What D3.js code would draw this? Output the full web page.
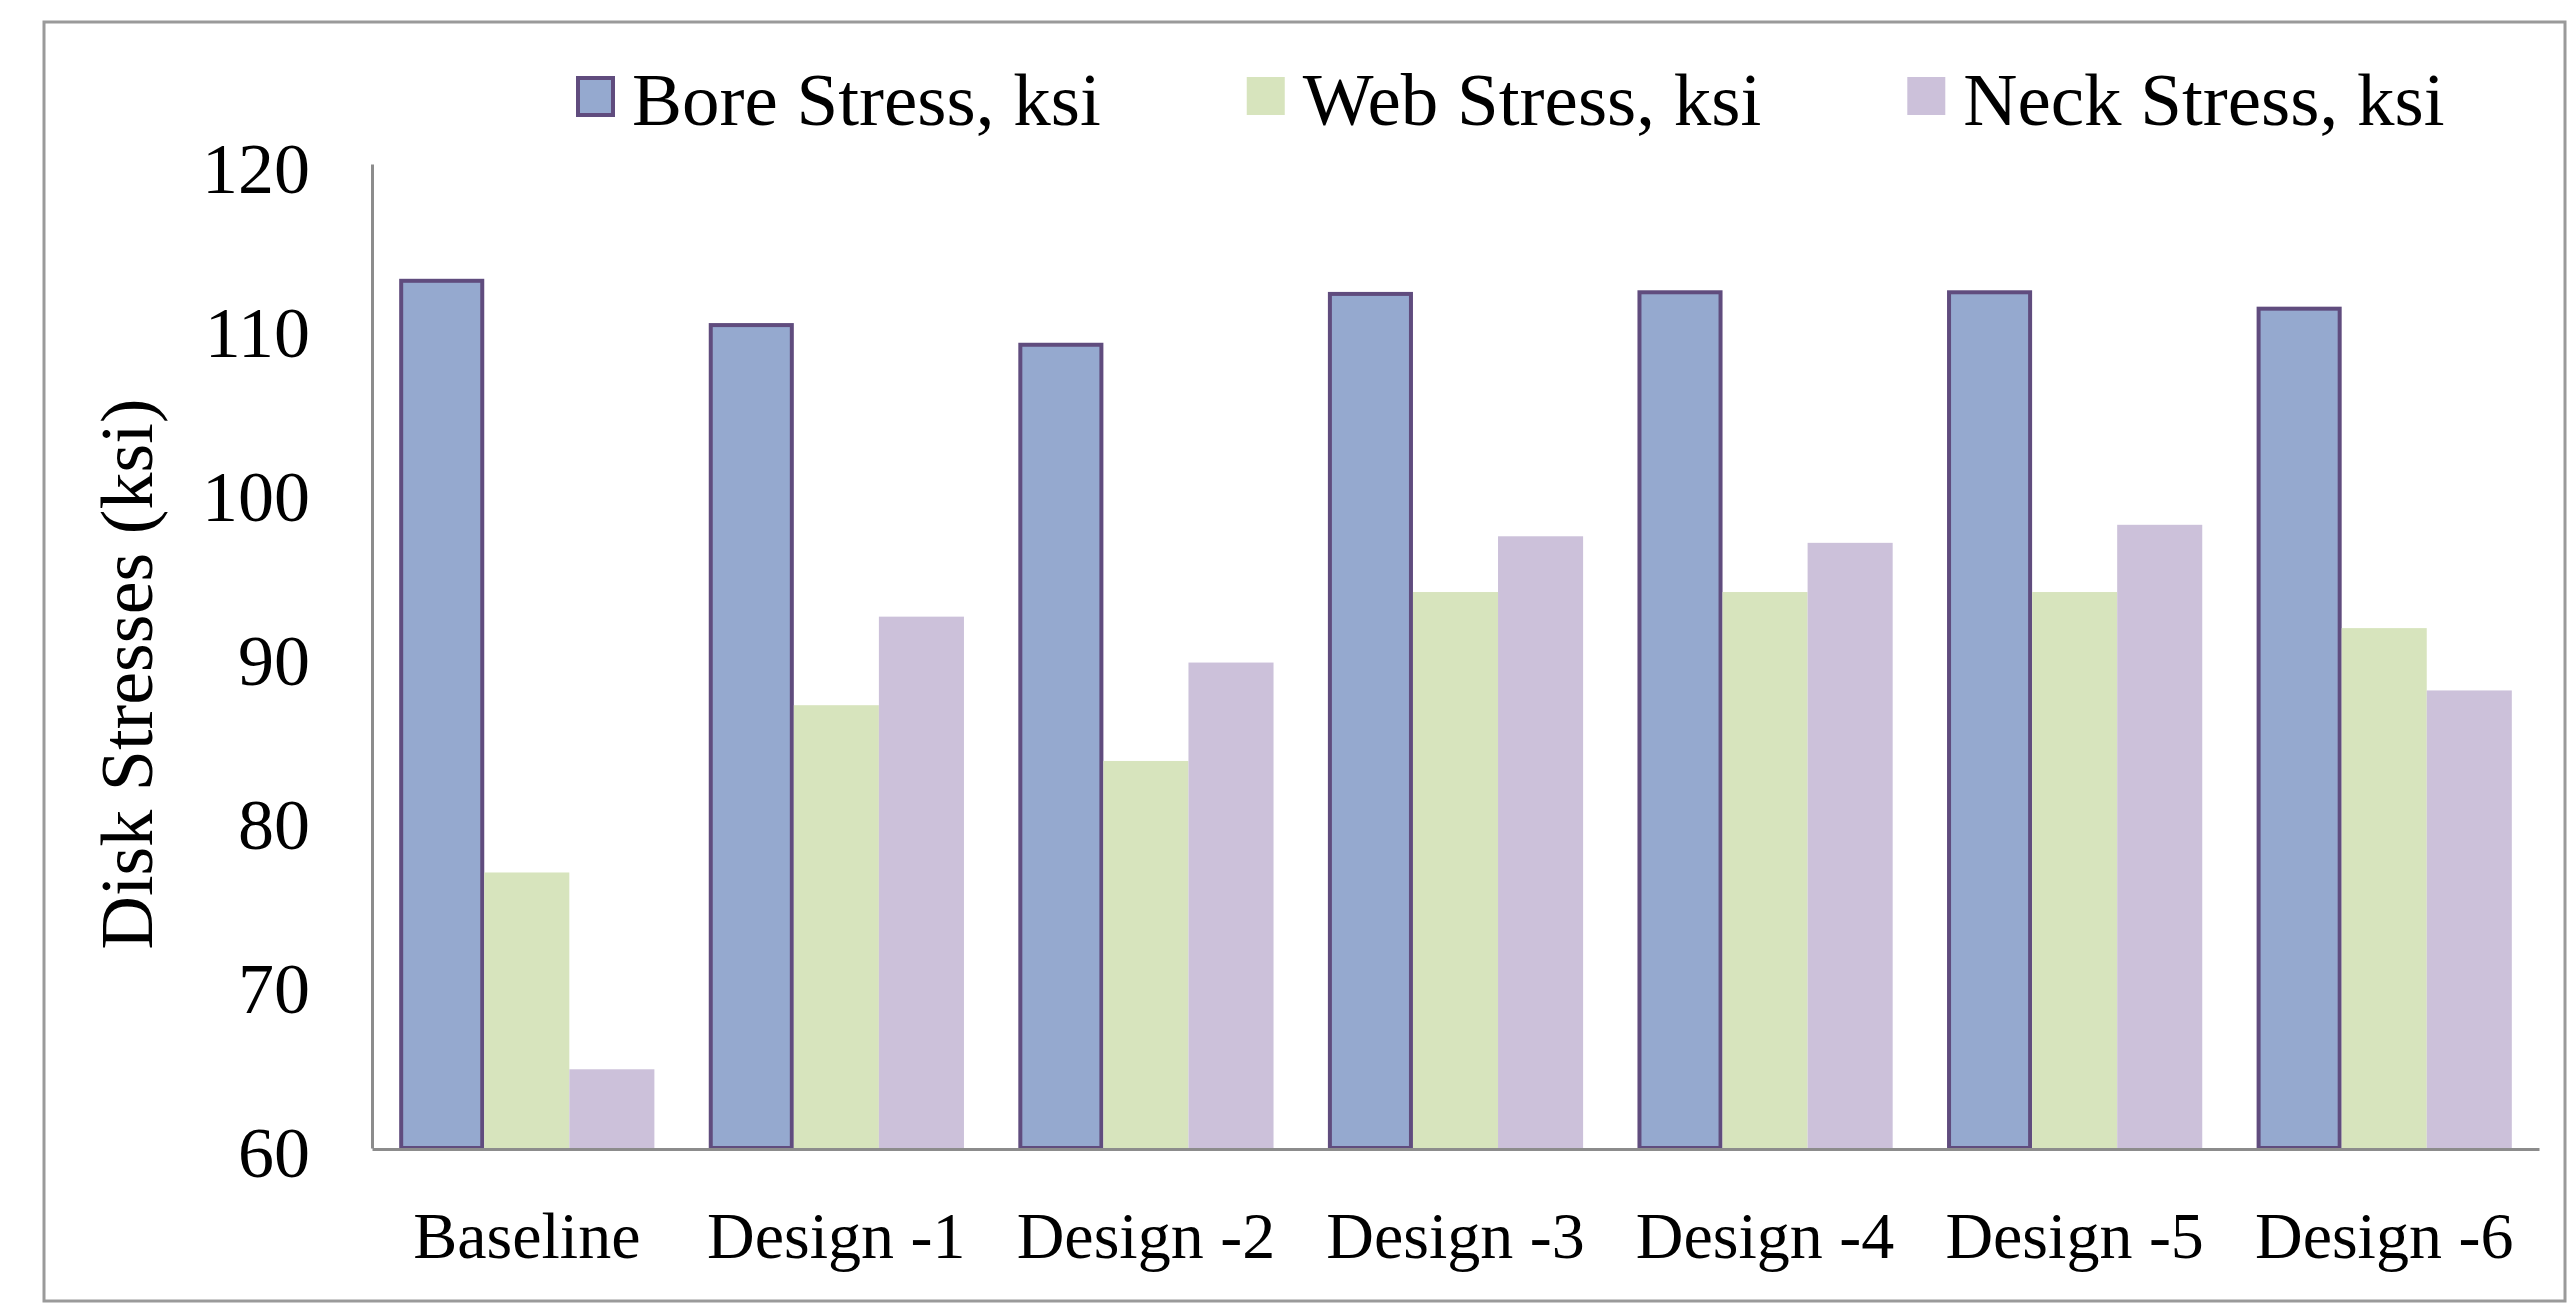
<!DOCTYPE html>
<html>
<head>
<meta charset="utf-8">
<script src="https://cdn.jsdelivr.net/npm/d3@7"></script>
<style>
  html, body { margin: 0; padding: 0; background: #ffffff; }
  svg { display: block; }
  text { font-family: "Liberation Serif", "Times New Roman", serif; fill: #000; }
</style>
</head>
<body>
<svg id="chart" width="2568" height="1315"></svg>
<script>
// ---- data ----
const categories = ["Baseline", "Design -1", "Design -2", "Design -3", "Design -4", "Design -5", "Design -6"];
const seriesNames = ["Bore Stress, ksi", "Web Stress, ksi", "Neck Stress, ksi"];
const boreStress = [113.0, 110.3, 109.1, 112.2, 112.3, 112.3, 111.3];
const webStress  = [76.8, 87.0, 83.6, 93.9, 93.9, 93.9, 91.7];
const neckStress = [64.8, 92.4, 89.6, 97.3, 96.9, 98.0, 87.9];
const yTicks = [60, 70, 80, 90, 100, 110, 120];
const yTitle = "Disk Stresses (ksi)";

// ---- styles ----
const fills = ["#95A9CF", "#D7E4BD", "#CCC1DA"];
const strokes = ["#604C7E", "none", "none"];

const svg = d3.select("#chart");

// outer frame
svg.append("rect")
  .attr("x", 44).attr("y", 22)
  .attr("width", 2565 - 44).attr("height", 1301 - 22)
  .attr("fill", "#fff")
  .attr("stroke", "#9a9a9a").attr("stroke-width", 3);

const plot = { left: 372, right: 2539, top: 164, bottom: 1148 };

const x0 = d3.scaleBand()
  .domain(categories)
  .range([plot.left, plot.right])
  .paddingInner(0.1756)
  .paddingOuter(0.0878);

const x1 = d3.scaleBand()
  .domain(seriesNames)
  .range([0, x0.bandwidth()])
  .padding(0);

const y = d3.scaleLinear()
  .domain([60, 120])
  .range([plot.bottom, plot.top]);

const seriesValues = [boreStress, webStress, neckStress];
const rows = [];
categories.forEach((c, i) => {
  seriesNames.forEach((s, j) => {
    rows.push({ cat: c, series: s, idx: j, value: seriesValues[j][i] });
  });
});

// bars
const bars = svg.append("g").attr("class", "bars");
bars.selectAll("rect")
  .data(rows)
  .join("rect")
  .attr("x", d => x0(d.cat) + x1(d.series) + (d.idx === 0 ? 2 : 0))
  .attr("y", d => y(d.value) + (d.idx === 0 ? 2 : 0))
  .attr("width", d => x1.bandwidth() - (d.idx === 0 ? 4 : 0))
  .attr("height", d => y(60) - y(d.value) - (d.idx === 0 ? 2 : 0))
  .attr("fill", d => fills[d.idx])
  .attr("stroke", d => strokes[d.idx])
  .attr("stroke-width", 4);

// axes
const yAxis = d3.axisLeft(y).tickValues(yTicks).tickSize(0).tickPadding(62).tickFormat(d3.format("d"));
const gy = svg.append("g")
  .attr("transform", `translate(${plot.left},0)`)
  .call(yAxis);
gy.select(".domain").attr("stroke", "#8c8c8c").attr("stroke-width", 3);
gy.selectAll(".tick text")
  .attr("font-size", 72)
  .attr("font-family", "Liberation Serif, Times New Roman, serif")
  .attr("dy", "0.4em");

const xAxis = d3.axisBottom(x0).tickSize(0).tickPadding(62);
const gx = svg.append("g")
  .attr("transform", `translate(0,${plot.bottom + 1})`)
  .call(xAxis);
gx.select(".domain").attr("stroke", "#8c8c8c").attr("stroke-width", 3);
gx.selectAll(".tick text")
  .attr("font-size", 66)
  .attr("font-family", "Liberation Serif, Times New Roman, serif")
  .attr("dy", "0.71em");

// y title
svg.append("text")
  .attr("transform", `translate(152,${(398 + 950) / 2}) rotate(-90)`)
  .attr("text-anchor", "middle")
  .attr("font-size", 74)
  .text(yTitle);

// legend
const legend = svg.append("g").attr("class", "legend");
let lx = 576;
seriesNames.forEach((s, j) => {
  const g = legend.append("g");
  if (j === 0) {
    g.append("rect").attr("x", lx + 2).attr("y", 78).attr("width", 35).attr("height", 37)
      .attr("fill", fills[j]).attr("stroke", strokes[j]).attr("stroke-width", 4);
  } else {
    g.append("rect").attr("x", lx).attr("y", 77).attr("width", 38).attr("height", 38)
      .attr("fill", fills[j]);
  }
  const t = g.append("text")
    .attr("x", lx + 56)
    .attr("y", 125)
    .attr("font-size", 75)
    .text(s);
  const w = t.node().getComputedTextLength();
  lx = lx + 56 + w + 146;
});
</script>
</body>
</html>
